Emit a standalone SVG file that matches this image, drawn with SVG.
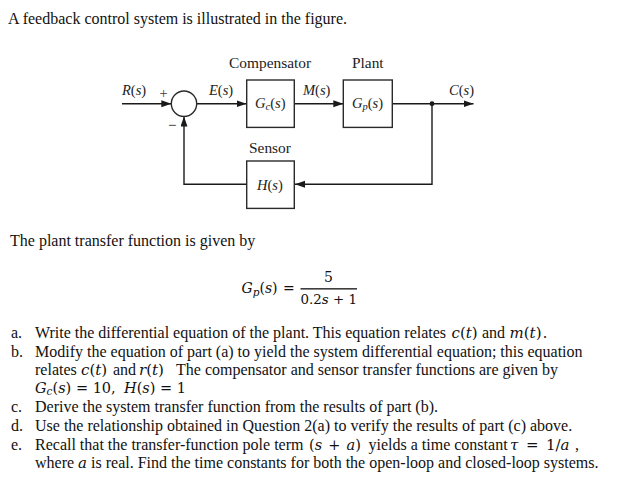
<svg xmlns="http://www.w3.org/2000/svg" width="620" height="482" viewBox="0 0 620 482">
<defs>
<marker id="arrow" markerUnits="userSpaceOnUse" markerWidth="11" markerHeight="8" refX="10" refY="3.5" orient="auto"><path d="M0 0L10 3.500L0 7z" fill="#1a1a1a"/></marker>
</defs>
<style>
text{font-family:"Liberation Serif","Times New Roman",serif;fill:#111}
.p{font-size:16px}
.d{font-size:14.500px;fill:#222}
.l{font-size:15.400px;fill:#222}
.i{font-style:italic}
.s{font-size:10.500px}
.m{font-family:"DejaVu Serif",serif;font-size:15px}
.b{fill:#fff;stroke:#2a2a2a;stroke-width:1.400}
.c{fill:none;stroke:#1a1a1a;stroke-width:1.400}
</style>
<rect width="620" height="482" fill="#fff"/>
<text class="p" x="8" y="24">A feedback control system is illustrated in the figure.</text>
<g id="connectors">
<path class="c" d="M122 103.700H171.300" marker-end="url(#arrow)"/>
<path class="c" d="M196.700 103.700H246.500" marker-end="url(#arrow)"/>
<path class="c" d="M294.300 103.700H343.300" marker-end="url(#arrow)"/>
<path class="c" d="M392.300 103.700H473.500" marker-end="url(#arrow)"/>
<path class="c" d="M432 103.700V184.300H295" marker-end="url(#arrow)"/>
<path class="c" d="M246.700 184.300H184V116.500" marker-end="url(#arrow)"/>
<circle cx="432" cy="103.700" r="2.400" fill="#1a1a1a"/>
</g>
<g id="summer"><circle class="b" cx="184" cy="103.700" r="12.700"/>
<text x="159.500" y="97.500" style="font-size:14.500px;fill:#533">+</text><text x="168" y="130" style="font-size:15px">−</text></g>
<g id="input"><text class="d" x="122" y="95"><tspan class="i">R</tspan>(<tspan class="i">s</tspan>)</text></g>
<g id="error"><text class="d" x="209" y="95"><tspan class="i">E</tspan>(<tspan class="i">s</tspan>)</text></g>
<g id="compensator"><text class="l" x="229" y="68">Compensator</text>
<rect class="b" x="246.700" y="80" width="47.600" height="47.400"/>
<text class="d" x="255" y="108"><tspan class="i">G</tspan><tspan class="i s" dy="2">c</tspan><tspan dy="-2">(</tspan><tspan class="i">s</tspan>)</text></g>
<g id="actuating"><text class="d" x="303" y="95"><tspan class="i">M</tspan>(<tspan class="i">s</tspan>)</text></g>
<g id="plant"><text class="l" x="352" y="68">Plant</text>
<rect class="b" x="343.300" y="80" width="49" height="47.400"/>
<text class="d" x="352" y="108"><tspan class="i">G</tspan><tspan class="i s" dy="2">p</tspan><tspan dy="-2">(</tspan><tspan class="i">s</tspan>)</text></g>
<g id="output"><text class="d" x="449" y="95"><tspan class="i">C</tspan>(<tspan class="i">s</tspan>)</text></g>
<g id="sensor"><text class="l" x="249" y="153">Sensor</text>
<rect class="b" x="246.700" y="161" width="47.600" height="47.400"/>
<text class="d" x="257" y="190"><tspan class="i">H</tspan>(<tspan class="i">s</tspan>)</text></g>
<text class="p" x="10" y="246">The plant transfer function is given by</text>
<text class="m" x="241.500" y="293" style="font-size:14px"><tspan class="i">G</tspan><tspan class="i s" dy="3">p</tspan><tspan dy="-3">(</tspan><tspan class="i">s</tspan>)</text>
<text class="m" x="283" y="293" style="font-size:14px">=</text>
<text class="m" x="324" y="281.500" style="font-size:14px">5</text>
<rect x="300.500" y="288.200" width="56.500" height="1.300" fill="#111"/>
<text class="m" x="300.500" y="304" style="font-size:13.400px">0.2<tspan class="i">s</tspan> + 1</text>
<text class="p" x="11" y="338">a.</text><text class="p" x="35" y="338">Write the differential equation of the plant. This equation relates</text>
<text class="m" x="451.500" y="338"><tspan class="i">c</tspan>(<tspan class="i">t</tspan>)</text><text class="p" x="482" y="338">and</text><text class="m" x="509.500" y="338"><tspan class="i">m</tspan>(<tspan class="i">t</tspan>)</text><text class="p" x="543" y="338">.</text>
<text class="p" x="11" y="357">b.</text><text class="p" x="35" y="357">Modify the equation of part (a) to yield the system differential equation; this equation</text>
<text class="p" x="35" y="375">relates</text><text class="m" x="81" y="375"><tspan class="i">c</tspan>(<tspan class="i">t</tspan>)</text><text class="p" x="113" y="375">and</text><text class="m" x="139" y="375"><tspan class="i">r</tspan>(<tspan class="i">t</tspan>)</text><text class="p" x="176" y="375">The compensator and sensor transfer functions are given by</text>
<text class="m" x="35" y="393" style="font-size:14.500px"><tspan class="i">G</tspan><tspan class="i s" dy="2">c</tspan><tspan dy="-2">(</tspan><tspan class="i">s</tspan>) = 10,</text><text class="m" x="124" y="393" style="font-size:14.500px"><tspan class="i">H</tspan>(<tspan class="i">s</tspan>) = 1</text>
<text class="p" x="11" y="412">c.</text><text class="p" x="35" y="412">Derive the system transfer function from the results of part (b).</text>
<text class="p" x="11" y="431">d.</text><text class="p" x="35" y="431">Use the relationship obtained in Question 2(a) to verify the results of part (c) above.</text>
<text class="p" x="11" y="450">e.</text><text class="p" x="35" y="450">Recall that the transfer-function pole term</text>
<text class="m" x="309" y="450" style="font-size:14.500px">(<tspan class="i">s</tspan><tspan dx="1.500"> + </tspan><tspan class="i" dx="1.500">a</tspan>)</text>
<text class="p" x="368.500" y="450">yields a time constant</text>
<text class="m" x="510" y="450"><tspan class="i">τ</tspan></text><text class="m" x="526" y="450">=</text><text class="m" x="546" y="450">1/<tspan class="i">a</tspan></text><text class="p" x="575" y="450">,</text>
<text class="p" x="35" y="468">where <tspan class="m i">a</tspan> is real. Find the time constants for both the open-loop and closed-loop systems.</text>
</svg>
